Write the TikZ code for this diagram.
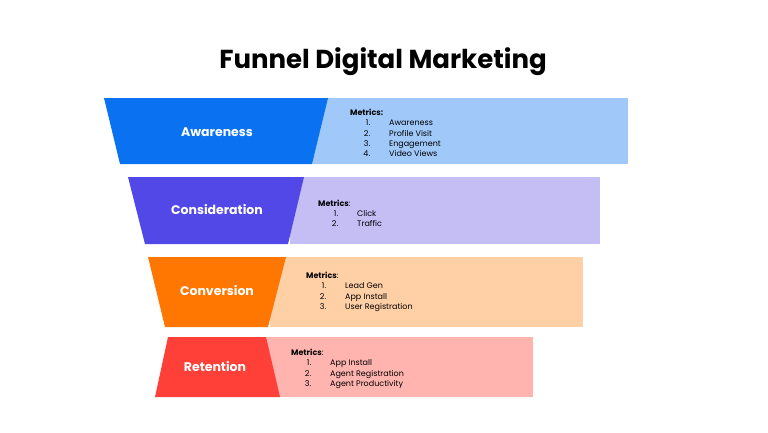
\documentclass[tikz,border=0pt]{standalone}
\usepackage{fontspec}
\setmainfont{Poppins}
\usepackage{tikz}

\definecolor{awareDark}{RGB}{10,114,240}
\definecolor{awareLight}{RGB}{160,201,250}
\definecolor{considerDark}{RGB}{82,72,232}
\definecolor{considerLight}{RGB}{196,190,245}
\definecolor{convertDark}{RGB}{255,119,0}
\definecolor{convertLight}{RGB}{255,207,166}
\definecolor{retainDark}{RGB}{255,64,56}
\definecolor{retainLight}{RGB}{255,180,175}

\newcommand{\metricitem}[2]{\makebox[20pt][r]{#1}\hspace{19pt}#2}

\begin{document}
\begin{tikzpicture}[
  x = 1pt,
  y = -1pt,
  funnel title/.style={
    font = \fontsize{26}{30}\selectfont\bfseries,
  },
  stage label/.style={
    text = white,
    font = \fontsize{12.5}{14}\selectfont\bfseries,
  },
  metrics list/.style={
    anchor = north west,
    align = left,
    inner sep = 0pt,
    font = \fontsize{8}{10.2}\selectfont,
  },
  ]
  \useasboundingbox [fill=white] (0,0) rectangle (768,432);

  \node [funnel title, name=node-title] at (383,62) {Funnel Digital Marketing};

  % awareness
  \fill [awareLight] (310,98) rectangle (628,164);
  \fill [awareDark] (104,98) -- (328,98) -- (312,164) -- (120,164) -- cycle;
  \node [stage label, name=node-awareness] at (217,132) {Awareness};
  \node [metrics list, name=node-awareness-metrics] at (350,109) {%
    \textbf{Metrics:}\\
    \metricitem{1.}{Awareness}\\
    \metricitem{2.}{Profile Visit}\\
    \metricitem{3.}{Engagement}\\
    \metricitem{4.}{Video Views}};

  % consideration
  \fill [considerLight] (290,177) rectangle (600,244);
  \fill [considerDark] (128,177) -- (304,177) -- (288,244) -- (145,244) -- cycle;
  \node [stage label, name=node-consideration] at (217,210) {Consideration};
  \node [metrics list, name=node-consideration-metrics] at (318,199.5) {%
    \textbf{Metrics}:\\
    \metricitem{1.}{Click}\\
    \metricitem{2.}{Traffic}};

  % conversion
  \fill [convertLight] (270,257) rectangle (583,327);
  \fill [convertDark] (148,257) -- (286,257) -- (268,327) -- (165,327) -- cycle;
  \node [stage label, name=node-conversion] at (217,291) {Conversion};
  \node [metrics list, name=node-conversion-metrics] at (306,272) {%
    \textbf{Metrics}:\\
    \metricitem{1.}{Lead Gen}\\
    \metricitem{2.}{App Install}\\
    \metricitem{3.}{User Registration}};

  % retention
  \fill [retainLight] (264,337) rectangle (533,397);
  \fill [retainDark] (168,337) -- (266,337) -- (280,397) -- (155,397) -- cycle;
  \node [stage label, name=node-retention] at (215,367) {Retention};
  \node [metrics list, name=node-retention-metrics] at (291,349) {%
    \textbf{Metrics}:\\
    \metricitem{1.}{App Install}\\
    \metricitem{2.}{Agent Registration}\\
    \metricitem{3.}{Agent Productivity}};
\end{tikzpicture}
\end{document}
